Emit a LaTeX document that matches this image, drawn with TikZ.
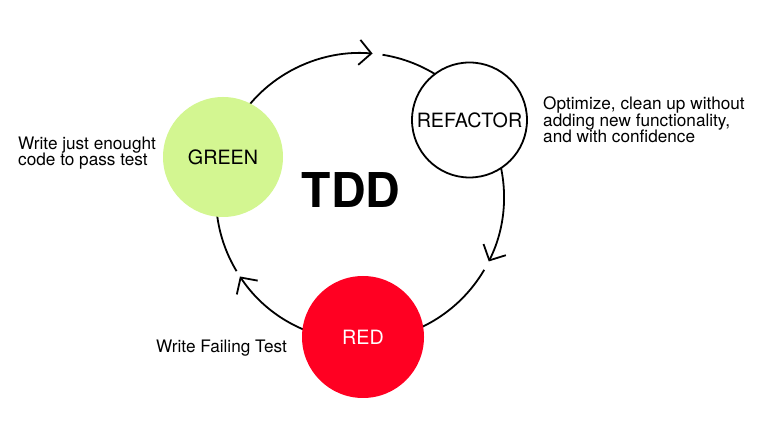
\documentclass[tikz,border=0pt]{standalone}
\usepackage{fontspec}
\setmainfont{TeX Gyre Heros}
\usetikzlibrary{arrows.meta,backgrounds}
\definecolor{tddgreen}{RGB}{211,246,145}
\definecolor{tddred}{RGB}{255,0,34}
\begin{document}
\begin{tikzpicture}[x=1pt,y=1pt,
  phase/.style={circle,inner sep=0pt,font=\fontsize{19.7}{22}\selectfont},
  note/.style={align=left,inner sep=0pt,font=\fontsize{17.2}{16.6}\selectfont},
  flow/.style={line width=1.8pt,-{Straight Barb[length=12pt,width=25pt]}},
  plain/.style={line width=1.8pt}]
\useasboundingbox (0,0) rectangle (773,441);
\coordinate (c) at (360,244);
\node[phase,fill=tddgreen,minimum size=120pt] (green) at (223,284) {GREEN};
\node[phase,fill=white,draw=black,line width=1.8pt,minimum size=115pt] (refactor) at (469.5,321) {REFACTOR};
\node[phase,fill=tddred,text=white,minimum size=122pt] (red) at (363,104) {RED};
\node[font=\fontsize{48}{50}\bfseries\selectfont,inner sep=0pt] (tdd) at (351,251) {TDD};
\node[note,anchor=base west] (greennote) at (18,275) {Write just enought\\code to pass test};
\node[note,anchor=base west] (refnote) at (543,298) {Optimize, clean up without\\adding new functionality,\\and with confidence};
\node[note,anchor=base west] (rednote) at (156,88) {Write Failing Test};
\begin{scope}[on background layer]
\draw[flow] (c) ++(271:144) arc[start angle=271,end angle=213.5,radius=144];
\draw[flow] (c) ++(211:144) arc[start angle=211,end angle=85,radius=144];
\draw[flow] (c) ++(81:144) arc[start angle=81,end angle=-26.6,radius=144];
\draw[plain] (c) ++(-30.4:144) arc[start angle=-30.4,end angle=-89,radius=144];
\end{scope}
\end{tikzpicture}
\end{document}
